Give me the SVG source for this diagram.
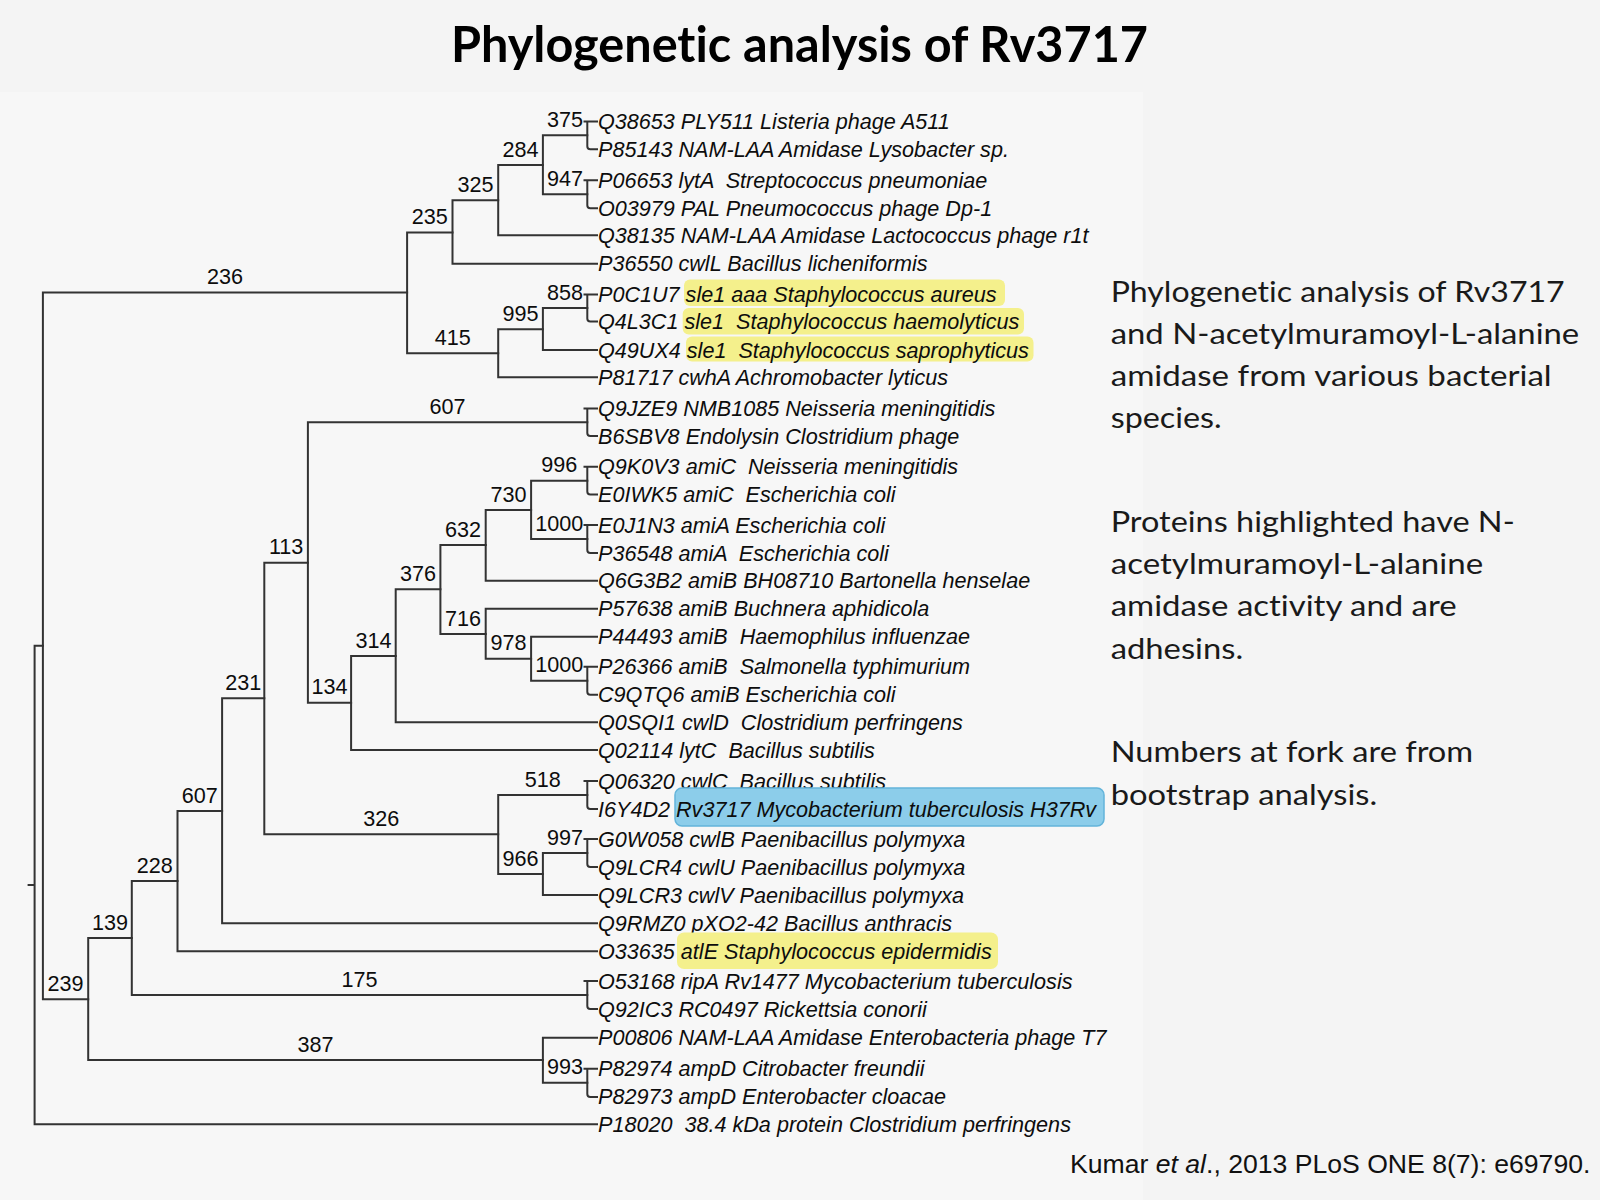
<svg xmlns="http://www.w3.org/2000/svg" width="1600" height="1200" viewBox="0 0 1600 1200">
<style>
.br{fill:none;stroke:#333;stroke-width:2;stroke-linecap:square}
.lf{font-family:"Liberation Sans",Arial,sans-serif;font-style:italic;font-size:21.6px;fill:#0d0d0d;white-space:pre}
.bs{font-family:"Liberation Sans",Arial,sans-serif;font-size:21.6px;fill:#0d0d0d;text-anchor:middle}
.side{font-family:Lato,"Open Sans",sans-serif;font-size:29px;fill:#1a1a1a;font-variant-ligatures:none}
.hy{fill:#f4f08c}
.hb{fill:#8ccdea;stroke:#63b4da;stroke-width:1.5}
</style>
<rect width="1600" height="1200" fill="#f4f4f4"/>
<rect x="0" y="92" width="1143" height="1108" fill="#f7f7f7"/>
<text x="451" y="62" font-family="Lato,'Open Sans',sans-serif" font-weight="700" font-size="50" fill="#000" textLength="697" lengthAdjust="spacingAndGlyphs" style="font-variant-ligatures:none">Phylogenetic analysis of Rv3717</text>

<g id="connectors" class="br">
<path d="M28.6 885H34.6M34.6 645.7V1124.3H597M34.6 645.7H42.9"/>
<path d="M42.9 292.5V999.3M42.9 292.5H407.1M42.9 999.3H88.2"/>
<path d="M407.1 232.5V353.3M407.1 232.5H452.5M407.1 353.3H498.2"/>
<path d="M452.5 200.3V263.7M452.5 200.3H498.2M452.5 263.7H597"/>
<path d="M498.2 165V235.3M498.2 165H542.9M498.2 235.3H597"/>
<path d="M542.9 135.3V194.3M542.9 135.3H587.3M542.9 194.3H587.3"/>
<path d="M498.2 329.3V377.3M498.2 329.3H542.9M498.2 377.3H597"/>
<path d="M542.9 308V350M542.9 308H587.3M542.9 350H597"/>
<path d="M88.2 938V1060M88.2 938H131.8M88.2 1060H542.9"/>
<path d="M131.8 881V995M131.8 881H177.5M131.8 995H587.3"/>
<path d="M177.5 811V951.3M177.5 811H222.1M177.5 951.3H597"/>
<path d="M222.1 698.3V923.3M222.1 698.3H264.3M222.1 923.3H597"/>
<path d="M264.3 562.7V834.3M264.3 562.7H307.9M264.3 834.3H498.2"/>
<path d="M307.9 422.3V702.7M307.9 422.3H587.3M307.9 702.7H351.1"/>
<path d="M351.1 656V750M351.1 656H395.7M351.1 750H597"/>
<path d="M395.7 589.3V722.3M395.7 589.3H440.4M395.7 722.3H597"/>
<path d="M440.4 545V634M440.4 545H485.7M440.4 634H485.7"/>
<path d="M485.7 510V580.7M485.7 510H531.1M485.7 580.7H597"/>
<path d="M531.1 480.7V539M531.1 480.7H587.3M531.1 539H587.3"/>
<path d="M485.7 608.7V658.7M485.7 608.7H597M485.7 658.7H531.1"/>
<path d="M531.1 636.7V680.7M531.1 636.7H597M531.1 680.7H587.3"/>
<path d="M498.2 795V874M498.2 795H587.3M498.2 874H542.9"/>
<path d="M542.9 853V895M542.9 853H587.3M542.9 895H597"/>
<path d="M542.9 1037.7V1082.8M542.9 1037.7H597M542.9 1082.8H587.3"/>
<path d="M584.5 121.5H597M587.3 121.5V146.2Q587.3 149.2 590.3 149.2H597"/>
<path d="M584.5 180.3H597M587.3 180.3V205.3Q587.3 208.3 590.3 208.3H597"/>
<path d="M584.5 294.5H597M587.3 294.5V318.5Q587.3 321.5 590.3 321.5H597"/>
<path d="M584.5 408.5H597M587.3 408.5V433Q587.3 436 590.3 436H597"/>
<path d="M584.5 466.8H597M587.3 466.8V491.5Q587.3 494.5 590.3 494.5H597"/>
<path d="M584.5 525H597M587.3 525V550Q587.3 553 590.3 553H597"/>
<path d="M584.5 666.7H597M587.3 666.7V691.7Q587.3 694.7 590.3 694.7H597"/>
<path d="M584.5 781H597M587.3 781V806Q587.3 809 590.3 809H597"/>
<path d="M584.5 839H597M587.3 839V864Q587.3 867 590.3 867H597"/>
<path d="M584.5 981H597M587.3 981V1006Q587.3 1009 590.3 1009H597"/>
<path d="M584.5 1068.7H597M587.3 1068.7V1093.9Q587.3 1096.9 590.3 1096.9H597"/>
</g>

<g id="bootstrap">
<text class="bs" x="225" y="284">236</text>
<text class="bs" x="429.8" y="224">235</text>
<text class="bs" x="452.7" y="344.8">415</text>
<text class="bs" x="475.4" y="191.8">325</text>
<text class="bs" x="520.6" y="156.5">284</text>
<text class="bs" x="565.1" y="126.8">375</text>
<text class="bs" x="565.1" y="185.8">947</text>
<text class="bs" x="520.6" y="320.8">995</text>
<text class="bs" x="565.1" y="299.5">858</text>
<text class="bs" x="447.6" y="413.8">607</text>
<text class="bs" x="559.2" y="472.2">996</text>
<text class="bs" x="508.4" y="501.5">730</text>
<text class="bs" x="559.2" y="530.5">1000</text>
<text class="bs" x="463" y="536.5">632</text>
<text class="bs" x="286.1" y="554.2">113</text>
<text class="bs" x="418" y="580.8">376</text>
<text class="bs" x="463" y="625.5">716</text>
<text class="bs" x="508.4" y="650.2">978</text>
<text class="bs" x="373.4" y="647.5">314</text>
<text class="bs" x="559.2" y="672.2">1000</text>
<text class="bs" x="243.2" y="689.8">231</text>
<text class="bs" x="329.5" y="694.2">134</text>
<text class="bs" x="542.8" y="786.5">518</text>
<text class="bs" x="199.8" y="802.5">607</text>
<text class="bs" x="381.3" y="825.8">326</text>
<text class="bs" x="565.1" y="844.5">997</text>
<text class="bs" x="520.6" y="865.5">966</text>
<text class="bs" x="154.7" y="872.5">228</text>
<text class="bs" x="110" y="929.5">139</text>
<text class="bs" x="359.6" y="986.5">175</text>
<text class="bs" x="65.6" y="990.8">239</text>
<text class="bs" x="315.6" y="1051.5">387</text>
<text class="bs" x="565.1" y="1074.3">993</text>
</g>

<g id="leaf-Q38653"><text class="lf" x="598" y="129">Q38653 PLY511 Listeria phage A511</text></g>
<g id="leaf-P85143"><text class="lf" x="598" y="156.7">P85143 NAM-LAA Amidase Lysobacter sp.</text></g>
<g id="leaf-P06653"><text class="lf" x="598" y="187.8">P06653 lytA  Streptococcus pneumoniae</text></g>
<g id="leaf-O03979"><text class="lf" x="598" y="215.8">O03979 PAL Pneumococcus phage Dp-1</text></g>
<g id="leaf-Q38135"><text class="lf" x="598" y="242.8">Q38135 NAM-LAA Amidase Lactococcus phage r1t</text></g>
<g id="leaf-P36550"><text class="lf" x="598" y="271.2">P36550 cwlL Bacillus licheniformis</text></g>
<g id="leaf-P0C1U7"><rect class="hy" x="684" y="279.5" width="321" height="26.5" rx="6"/><text class="lf" x="598" y="302">P0C1U7 sle1 aaa Staphylococcus aureus</text></g>
<g id="leaf-Q4L3C1"><rect class="hy" x="682.7" y="308" width="341.3" height="26.5" rx="6"/><text class="lf" x="598" y="329">Q4L3C1 sle1  Staphylococcus haemolyticus</text></g>
<g id="leaf-Q49UX4"><rect class="hy" x="686" y="336.5" width="347.5" height="25" rx="6"/><text class="lf" x="598" y="357.5">Q49UX4 sle1  Staphylococcus saprophyticus</text></g>
<g id="leaf-P81717"><text class="lf" x="598" y="384.8">P81717 cwhA Achromobacter lyticus</text></g>
<g id="leaf-Q9JZE9"><text class="lf" x="598" y="416">Q9JZE9 NMB1085 Neisseria meningitidis</text></g>
<g id="leaf-B6SBV8"><text class="lf" x="598" y="443.5">B6SBV8 Endolysin Clostridium phage</text></g>
<g id="leaf-Q9K0V3"><text class="lf" x="598" y="474.3">Q9K0V3 amiC  Neisseria meningitidis</text></g>
<g id="leaf-E0IWK5"><text class="lf" x="598" y="502">E0IWK5 amiC  Escherichia coli</text></g>
<g id="leaf-E0J1N3"><text class="lf" x="598" y="532.5">E0J1N3 amiA Escherichia coli</text></g>
<g id="leaf-P36548"><text class="lf" x="598" y="560.5">P36548 amiA  Escherichia coli</text></g>
<g id="leaf-Q6G3B2"><text class="lf" x="598" y="588.2">Q6G3B2 amiB BH08710 Bartonella henselae</text></g>
<g id="leaf-P57638"><text class="lf" x="598" y="616.2">P57638 amiB Buchnera aphidicola</text></g>
<g id="leaf-P44493"><text class="lf" x="598" y="644.2">P44493 amiB  Haemophilus influenzae</text></g>
<g id="leaf-P26366"><text class="lf" x="598" y="674.2">P26366 amiB  Salmonella typhimurium</text></g>
<g id="leaf-C9QTQ6"><text class="lf" x="598" y="702.2">C9QTQ6 amiB Escherichia coli</text></g>
<g id="leaf-Q0SQI1"><text class="lf" x="598" y="729.8">Q0SQI1 cwlD  Clostridium perfringens</text></g>
<g id="leaf-Q02114"><text class="lf" x="598" y="757.5">Q02114 lytC  Bacillus subtilis</text></g>
<g id="leaf-Q06320"><text class="lf" x="598" y="788.5">Q06320 cwlC  Bacillus subtilis</text></g>
<g id="leaf-I6Y4D2"><rect class="hb" x="675" y="788" width="429" height="38" rx="7"/><text class="lf" x="598" y="816.5">I6Y4D2 Rv3717 Mycobacterium tuberculosis H37Rv</text></g>
<g id="leaf-G0W058"><text class="lf" x="598" y="846.5">G0W058 cwlB Paenibacillus polymyxa</text></g>
<g id="leaf-Q9LCR4"><text class="lf" x="598" y="874.5">Q9LCR4 cwlU Paenibacillus polymyxa</text></g>
<g id="leaf-Q9LCR3"><text class="lf" x="598" y="902.5">Q9LCR3 cwlV Paenibacillus polymyxa</text></g>
<g id="leaf-Q9RMZ0"><text class="lf" x="598" y="930.8">Q9RMZ0 pXO2-42 Bacillus anthracis</text></g>
<g id="leaf-O33635"><rect class="hy" x="677" y="932.5" width="321" height="36.5" rx="7"/><text class="lf" x="598" y="958.8">O33635 atlE Staphylococcus epidermidis</text></g>
<g id="leaf-O53168"><text class="lf" x="598" y="988.5">O53168 ripA Rv1477 Mycobacterium tuberculosis</text></g>
<g id="leaf-Q92IC3"><text class="lf" x="598" y="1016.5">Q92IC3 RC0497 Rickettsia conorii</text></g>
<g id="leaf-P00806"><text class="lf" x="598" y="1045.2">P00806 NAM-LAA Amidase Enterobacteria phage T7</text></g>
<g id="leaf-P82974"><text class="lf" x="598" y="1076.2">P82974 ampD Citrobacter freundii</text></g>
<g id="leaf-P82973"><text class="lf" x="598" y="1104.4">P82973 ampD Enterobacter cloacae</text></g>
<g id="leaf-P18020"><text class="lf" x="598" y="1131.8">P18020  38.4 kDa protein Clostridium perfringens</text></g>

<g id="notes" class="side">
<text x="1110.7" y="301.5" textLength="454" lengthAdjust="spacingAndGlyphs">Phylogenetic analysis of Rv3717</text>
<text x="1110.7" y="344" textLength="468.5" lengthAdjust="spacingAndGlyphs">and N-acetylmuramoyl-L-alanine</text>
<text x="1110.7" y="386" textLength="441" lengthAdjust="spacingAndGlyphs">amidase from various bacterial</text>
<text x="1110.7" y="428" textLength="111" lengthAdjust="spacingAndGlyphs">species.</text>
<text x="1110.7" y="532" textLength="404" lengthAdjust="spacingAndGlyphs">Proteins highlighted have N-</text>
<text x="1110.7" y="574" textLength="372.5" lengthAdjust="spacingAndGlyphs">acetylmuramoyl-L-alanine</text>
<text x="1110.7" y="616" textLength="346" lengthAdjust="spacingAndGlyphs">amidase activity and are</text>
<text x="1110.7" y="658.5" textLength="132.5" lengthAdjust="spacingAndGlyphs">adhesins.</text>
<text x="1110.7" y="762" textLength="362.5" lengthAdjust="spacingAndGlyphs">Numbers at fork are from</text>
<text x="1110.7" y="805" textLength="266.5" lengthAdjust="spacingAndGlyphs">bootstrap analysis.</text>
</g>

<text x="1070" y="1173" font-family="'Liberation Sans',Arial,sans-serif" font-size="26.6" fill="#111">Kumar <tspan font-style="italic">et al</tspan>., 2013 PLoS ONE 8(7): e69790.</text>
</svg>
